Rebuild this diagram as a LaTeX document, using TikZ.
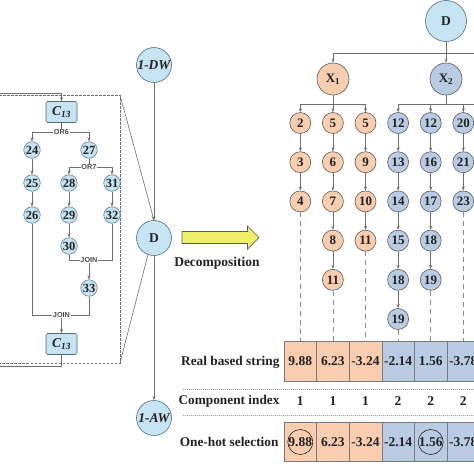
\documentclass[tikz,border=0pt]{standalone}
\usepackage{fontspec}
\setmainfont{Liberation Serif}
\setsansfont{Liberation Sans}
\usetikzlibrary{arrows.meta}
\definecolor{lblue}{HTML}{C6E4F4}
\definecolor{lbord}{HTML}{4F6B7E}
\definecolor{orf}{HTML}{F8CDB0}
\definecolor{blf}{HTML}{B9CCE4}
\definecolor{nbord}{HTML}{5A5A5A}
\definecolor{cbord}{HTML}{7A7A7A}
\definecolor{yel}{HTML}{EEF06A}
\definecolor{lgray}{HTML}{6E6E6E}
\definecolor{txt}{HTML}{222222}

\begin{document}
\begin{tikzpicture}[x=1pt, y=-1pt, text=txt,
	ln/.style={draw=lgray, line width=0.6pt},
	arr/.style={ln, -{Stealth[length=4pt, width=3pt]}},
	boxd/.style={draw=lgray, line width=0.8pt, dash pattern=on 2.5pt off 1.5pt},
	dsh/.style={draw=lgray!80, line width=0.7pt, dash pattern=on 5pt off 4pt},
	dotln/.style={draw=lgray!70, line width=0.5pt, dash pattern=on 1pt off 1pt},
	big/.style={circle, draw=lbord, fill=lblue, line width=0.6pt, inner sep=0, minimum size=35, font=\fontsize{13.5}{13.5}\selectfont\bfseries},
	sm/.style={circle, draw=lbord, fill=lblue, line width=0.5pt, inner sep=0, minimum size=16.5, font=\fontsize{12.5}{12.5}\selectfont\bfseries},
	cbox/.style={rectangle, rounded corners=1.5pt, draw=lbord, fill=lblue, line width=0.6pt, minimum width=31, minimum height=21, inner sep=0, font=\fontsize{13.5}{13.5}\selectfont\bfseries\itshape},
	lab/.style={fill=white, inner sep=0.7pt, text=lgray!70!black, font=\sffamily\bfseries\fontsize{7.3}{7.3}\selectfont},
	tn/.style={circle, draw=nbord, line width=0.6pt, inner sep=0, minimum size=21, font=\fontsize{13}{13}\selectfont\bfseries},
	orn/.style={tn, fill=orf},
	blu/.style={tn, fill=blf},
	cell/.style={draw=cbord, line width=0.6pt, minimum width=32.6, minimum height=39.5, inner sep=0, font=\fontsize{13.5}{13.5}\selectfont\bfseries},
	rowlab/.style={anchor=east, font=\fontsize{13.3}{13.3}\selectfont\bfseries}]

\useasboundingbox (0,0) rectangle (474,474);
\clip (0,0) rectangle (474,474);

\coordinate (bxt) at (120,95);
\coordinate (bxb) at (120,363);
\coordinate (entry) at (-5,93);
\coordinate (exit) at (-5,366);
\coordinate (o6) at (61.5,132);
\coordinate (o7) at (89,167);
\coordinate (j6) at (89,260);
\coordinate (j7) at (61.5,315);

\draw[boxd] (-5,95) -- (bxt) -- (bxb) -- (-5,363);

\node[cbox] (ca) at (61.5,112) {C\textsubscript{13}};
\node[cbox] (cb) at (61.5,344) {C\textsubscript{13}};
\foreach \n/\x/\y in {24/32/150, 25/32/183, 26/32/215, 27/89/150, 28/69/183, 29/69/215, 30/69/246, 31/112/183, 32/112/215, 33/89/288}
	\node[sm] (n\n) at (\x,\y) {\n};

\draw[arr] (entry) -| (ca);
\draw[ln] (cb) |- (exit);
\draw[ln] (ca) -- (o6);
\draw[arr] (o6) -| (n24);
\draw[arr] (o6) -| (n27);
\draw[ln] (n27) -- (o7);
\draw[arr] (o7) -| (n28);
\draw[arr] (o7) -| (n31);
\foreach \a/\b in {24/25, 25/26, 28/29, 29/30, 31/32}
	\draw[arr] (n\a) -- (n\b);
\draw[ln] (n30) |- (j6);
\draw[ln] (n32) |- (j6);
\draw[arr] (j6) -- (n33);
\draw[ln] (n26) |- (j7);
\draw[ln] (n33) |- (j7);
\draw[arr] (j7) -- (cb);

\node[lab] (l6) at (o6) {OR6};
\node[lab] (l7) at (o7) {OR7};
\node[lab] (l8) at (j6) {JOIN};
\node[lab] (l9) at (j7) {JOIN};

\node[big] (dw) at (154,65) {\itshape 1-DW};
\node[big] (dd) at (154,238) {D};
\node[big] (aw) at (154,418) {\itshape 1-AW};
\draw[arr] (dw) -- (dd);
\draw[arr] (dd) -- (aw);
\draw[arr] (bxt) -- (dd.north);
\draw[ln] (bxb) -- (dd.250);

\draw[draw=nbord, fill=yel, line width=0.7pt] (182,231.5) -- (247.5,231.5) -- (247.5,226) -- (259,237.5) -- (247.5,249) -- (247.5,243.5) -- (182,243.5) -- cycle;
\node[font=\fontsize{13.5}{13.5}\selectfont\bfseries] (dec) at (217,263) {Decomposition};

\node[big, minimum size=41] (dt) at (446,21) {D};
\coordinate (dtop) at (446,-5);
\coordinate (dj) at (446,53);
\coordinate (dje) at (480,53);
\draw[ln] (dtop) -- (dt);
\draw[ln] (dt) -- (dj) -- (dje);
\node[orn, minimum size=32] (x1) at (333,79) {X\textsubscript{1}};
\node[blu, minimum size=32] (x2) at (446,79) {X\textsubscript{2}};
\draw[arr] (dj) -| (x1);
\draw[arr] (dj) -- (x2);
\coordinate (ja) at (333,104);
\coordinate (jb) at (446,104);
\coordinate (jbe) at (480,104);
\draw[ln] (x1) -- (ja);
\draw[ln] (x2) -- (jb) -- (jbe);

\foreach \v/\f [count=\i] in {9.88/orf, 6.23/orf, -3.24/orf, -2.14/blf, 1.56/blf, -3.78/blf} {
	\node[cell, fill=\f] (s\i) at ({300.3+32.6*(\i-1)}, 361.5) {\v};
	\node[cell, fill=\f] (h\i) at ({300.3+32.6*(\i-1)}, 442) {\v};
}
\foreach \k [count=\i] in {1,1,1,2,2,2}
	\node[font=\fontsize{13.5}{13.5}\selectfont\bfseries] (k\i) at ({300.3+32.6*(\i-1)}, 401) {\k};
\node[circle, draw=txt, line width=0.6pt, minimum size=25] (sel1) at (h1) {};
\node[circle, draw=txt, line width=0.6pt, minimum size=25] (sel5) at (h5) {};

\draw[dotln] (183,389) -- (480,389);
\draw[dotln] (183,415) -- (480,415);
\node[rowlab] (lr) at (283,362) {Real based string};
\node[rowlab] (lc) at (283,401) {Component index};
\node[rowlab] (lo) at (282,442) {One-hot selection};

\foreach \c/\lst/\st/\m in {1/{2,3,4}/orn/3, 2/{5,6,7,8,11}/orn/5, 3/{5,9,10,11}/orn/4, 4/{12,13,14,15,18,19}/blu/6, 5/{12,16,17,18,19}/blu/5, 6/{20,21,23}/blu/3} {
	\foreach \v [count=\r] in \lst
		\node[\st] (t\c-\r) at ({300.3+32.6*(\c-1)}, {123+39.2*(\r-1)}) {\v};
	\foreach \r [remember=\r as \p (initially 1)] in {2,...,\m}
		\draw[arr] (t\c-\p) -- (t\c-\r);
	\draw[dsh] (t\c-\m) -- (s\c);
}
\foreach \c in {1,2,3}
	\draw[arr] (ja) -| (t\c-1);
\foreach \c in {4,5,6}
	\draw[arr] (jb) -| (t\c-1);

\end{tikzpicture}
\end{document}
